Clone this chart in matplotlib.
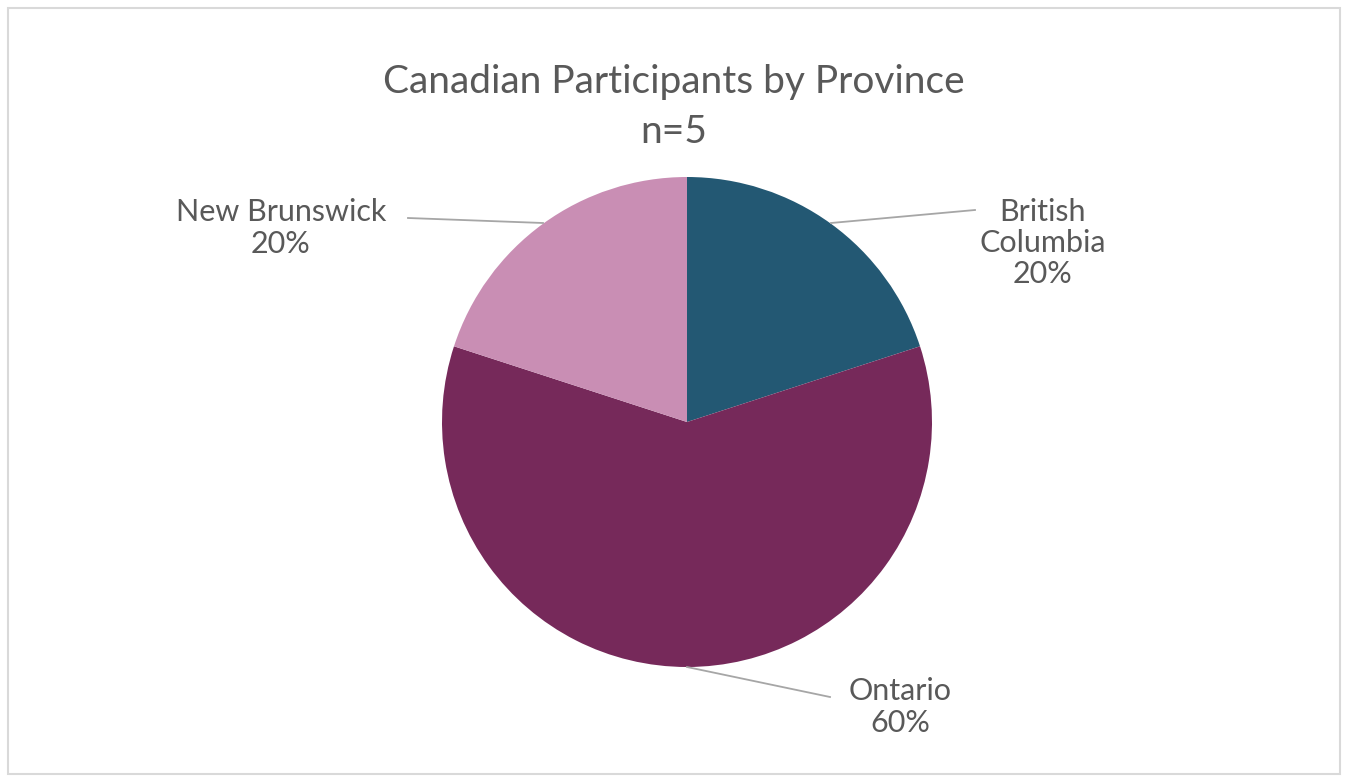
import matplotlib
matplotlib.use("Agg")
import matplotlib.pyplot as plt
from matplotlib.patches import Rectangle

provinces = ["British\nColumbia", "Ontario", "New Brunswick"]
shares = [20, 60, 20]
colors = ["#235873", "#76295A", "#C98EB4"]
TXT = "#595959"

W, H = 1348, 782
CX, CY, R = 687, 422, 245

fig = plt.figure(figsize=(W / 100, H / 100), dpi=100)
ax = fig.add_axes([0, 0, 1, 1])
ax.set_xlim(-CX / R, (W - CX) / R)
ax.set_ylim(-(H - CY) / R, CY / R)
ax.axis("off")

ax.pie(shares, colors=colors, startangle=90, counterclock=False, radius=1,
       center=(0, 0), frame=True)
ax.set_xlim(-CX / R, (W - CX) / R)
ax.set_ylim(-(H - CY) / R, CY / R)
ax.axis("off")

def px(x, y):
    return ((x - CX) / R, (CY - y) / R)

# leader lines (edge point -> label), and labels
leaders = [((831, 223), (975, 210)), ((687, 667), (830, 697)), ((543, 223), (408, 218))]
label_pos = [(1043, 243), (900, 707), (281, 228)]
for name, v, (a, b), lp in zip(provinces, shares, leaders, label_pos):
    ax.plot(*zip(px(*a), px(*b)), color="#A6A6A6", lw=1.3)
    ax.text(*px(*lp), f"{name}\n{v}%", ha="center", va="center", fontsize=22,
            color=TXT, family="Lato", linespacing=1.15)

fig.text(0.5, 1 - 82 / H, "Canadian Participants by Province", ha="center", va="center",
         fontsize=28, color=TXT, family="Lato")
fig.text(0.5, 1 - 132 / H, "n=5", ha="center", va="center", fontsize=28, color=TXT, family="Lato")

fig.patches.append(Rectangle((8 / W, 8 / H), 1 - 16 / W, 1 - 16 / H, transform=fig.transFigure,
                             fill=False, edgecolor="#D9D9D9", lw=1.5))
fig.savefig("out.png", facecolor="white")
